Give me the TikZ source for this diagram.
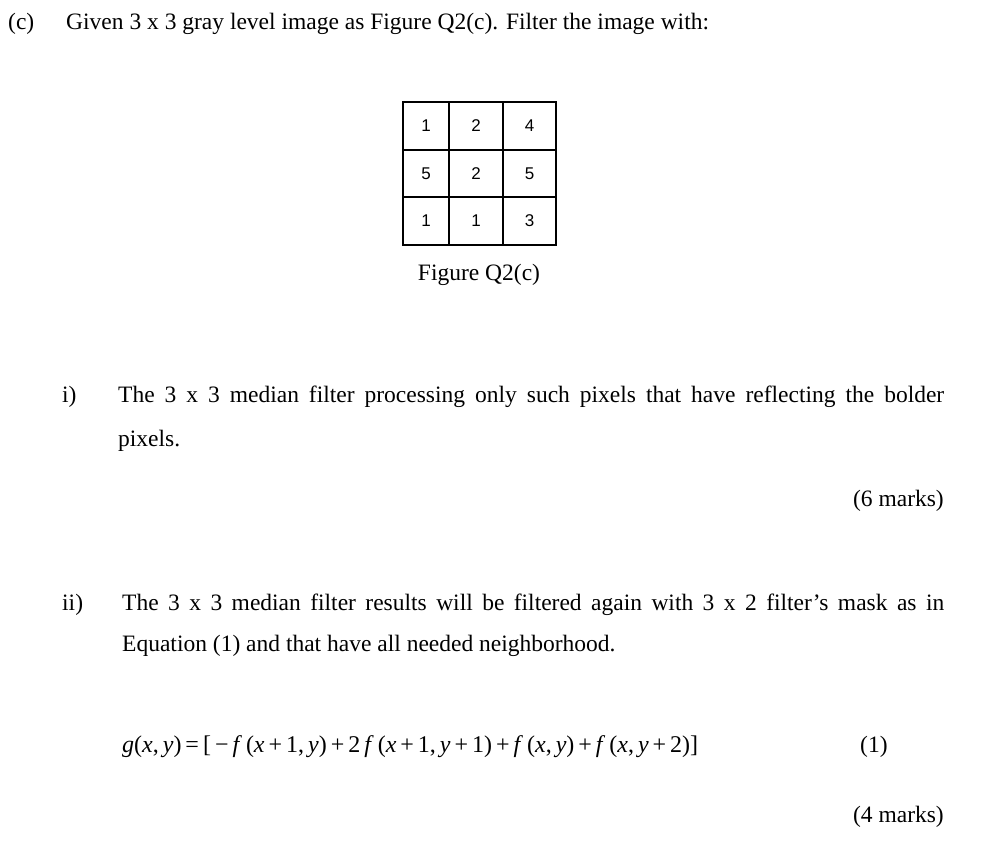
\documentclass[tikz,border=0pt]{standalone}
\usepackage{fontspec}
\setmainfont{Liberation Serif}
\newfontfamily\arial{Liberation Sans}
\begin{document}
\begin{tikzpicture}[x=1pt,y=-1pt,
  txt/.style={anchor=base west,inner sep=0pt,font=\fontsize{23.5}{28}\selectfont},
  num/.style={inner sep=0pt,font=\arial\fontsize{17}{20}\selectfont},
  grid/.style={line width=1.2pt}]
\useasboundingbox[fill=white] (0,0) rectangle (1000,848);
\node[txt] (c) at (8,30) {(c)};
\node[txt] (l1) at (66,30) {Given 3 x 3 gray level image as Figure Q2(c). Filter the image with:};
% table
\draw[grid] (403,102) rectangle (556,245);
\draw[grid] (449,102) -- (449,245) (503,102) -- (503,245);
\draw[grid] (403,150) -- (556,150) (403,197) -- (556,197);
\node[num] (a11) at (426,126) {1};
\node[num] (a12) at (476,126) {2};
\node[num] (a13) at (529.5,126) {4};
\node[num] (a21) at (426,173.5) {5};
\node[num] (a22) at (476,173.5) {2};
\node[num] (a23) at (529.5,173.5) {5};
\node[num] (a31) at (426,221) {1};
\node[num] (a32) at (476,221) {1};
\node[num] (a33) at (529.5,221) {3};
\node[txt,anchor=base] (cap) at (479,280) {Figure Q2(c)};
% i
\node[txt] (i) at (62,402) {i)};
\node[txt] (i1) at (118,402) {\hbox to 826pt{The 3 x 3 median filter processing only such pixels that have reflecting the bolder}};
\node[txt] (i2) at (118,446) {pixels.};
\node[txt,anchor=base east] (m6) at (944,506) {(6 marks)};
% ii
\node[txt] (ii) at (62,610) {ii)};
\node[txt] (ii1) at (122,610) {\hbox to 822pt{The 3 x 3 median filter results will be filtered again with 3 x 2 filter’s mask as in}};
\node[txt] (ii2) at (122,651) {Equation (1) and that have all needed neighborhood.};
\node[txt,font=\fontsize{24}{28}\selectfont] (eq) at (122,752) {\hbox to 605pt{\textit{g}(\textit{x},\,\textit{y})\,=\,[\,−\,\textit{f}\,(\textit{x}\,+\,1,\,\textit{y})\,+\,2\,\textit{f}\,(\textit{x}\,+\,1,\,\textit{y}\,+\,1)\,+\,\textit{f}\,(\textit{x},\,\textit{y})\,+\,\textit{f}\,(\textit{x},\,\textit{y}\,+\,2)]\hss}};
\node[txt] (e1) at (860,752) {(1)};
\node[txt,anchor=base east] (m4) at (944,822) {(4 marks)};
\end{tikzpicture}
\end{document}
